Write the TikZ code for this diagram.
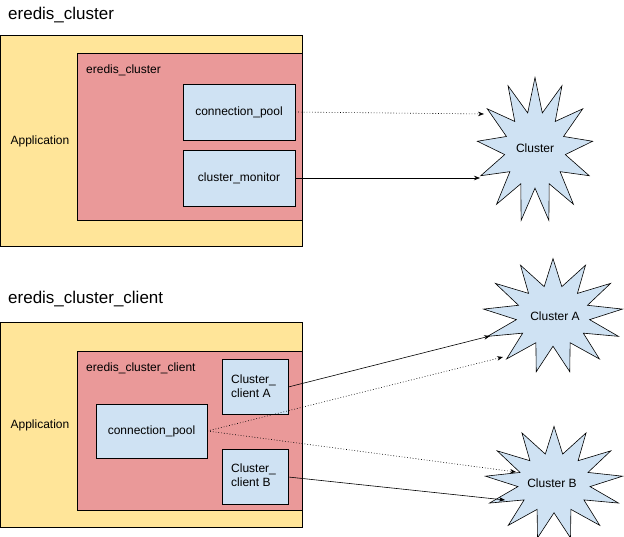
\documentclass[tikz,border=0pt]{standalone}
\usepackage{fontspec}
\setmainfont{Liberation Sans}
\usetikzlibrary{shapes.geometric,arrows.meta}
\definecolor{yel}{HTML}{FFE599}
\definecolor{redb}{HTML}{EA9999}
\definecolor{blu}{HTML}{CFE2F3}
\begin{document}
\begin{tikzpicture}[x=1pt,y=-1pt,
  app/.style={draw=black,fill=yel,line width=0.6pt},
  lib/.style={draw=black,fill=redb,line width=0.6pt},
  comp/.style={draw=black,fill=blu,line width=0.6pt,align=left,font=\fontsize{12}{14}\selectfont,inner sep=0pt},
  lbl/.style={font=\fontsize{12}{14}\selectfont,inner sep=0pt},
  ttl/.style={font=\fontsize{17}{20}\selectfont,anchor=west,inner sep=0pt},
  cl/.style={star,star points=13,star point ratio=1.9,draw=black,fill=blu,line width=0.6pt,transform shape},
  arr/.style={-{Stealth[length=6pt,width=4.5pt]},line width=0.6pt},
  dot/.style={arr,dash pattern=on 0.8pt off 2pt}]
\useasboundingbox (0,0) rectangle (624,537);
% top
\node[ttl] (t1) at (8,15) {eredis\_cluster};
\draw[app] (0,35) rectangle (302,246);
\node[lbl] (a1) at (40,141) {Application};
\draw[lib] (77,53) rectangle (302,220);
\node[lbl,anchor=west] (l1) at (86,70) {eredis\_cluster};
\node[comp,minimum width=112,minimum height=56] (cp1) at (239,112) {connection\_pool};
\node[comp,minimum width=112,minimum height=56] (cm1) at (239,178) {cluster\_monitor};
\begin{scope}[shift={(535,150)},xscale=0.8]
\node[cl,minimum size=145] (c1) at (0,0) {};
\end{scope}
\node[lbl] (c1t) at (535,148) {Cluster};
\draw[dot] (cp1.east) -- (484,114);
\draw[arr] (cm1.east) -- (480,178);
% bottom
\node[ttl] (t2) at (8,299) {eredis\_cluster\_client};
\draw[app] (0,322) rectangle (302,527);
\node[lbl] (a2) at (40,425) {Application};
\draw[lib] (77,351) rectangle (302,510);
\node[lbl,anchor=west] (l2) at (86,368) {eredis\_cluster\_client};
\node[comp,minimum width=66,minimum height=55] (ca) at (255,387) {};
\node[lbl,anchor=north west,align=left] at (231,375) {Cluster\_\\client A};
\node[comp,minimum width=111,minimum height=54] (cp2) at (151.5,431) {connection\_pool};
\node[comp,minimum width=66,minimum height=55] (cb) at (255,477) {};
\node[lbl,anchor=north west,align=left] at (231,464) {Cluster\_\\client B};
\begin{scope}[shift={(553,316)},yscale=0.82]
\node[cl,minimum size=140] (cA) at (0,0) {};
\end{scope}
\node[lbl] (cAt) at (555,316) {Cluster A};
\begin{scope}[shift={(554,483)},yscale=0.82]
\node[cl,minimum size=138] (cB) at (0,0) {};
\end{scope}
\node[lbl] (cBt) at (552,483) {Cluster B};
\coordinate (ea) at (490,336);
\coordinate (da) at (503,357);
\coordinate (db) at (516,472);
\coordinate (eb) at (505,500);
\draw[arr] (ca.east) -- (ea);
\draw[dot] (cp2.east) -- (da);
\draw[dot] (cp2.east) -- (db);
\draw[arr] (cb.east) -- (eb);
\end{tikzpicture}
\end{document}
